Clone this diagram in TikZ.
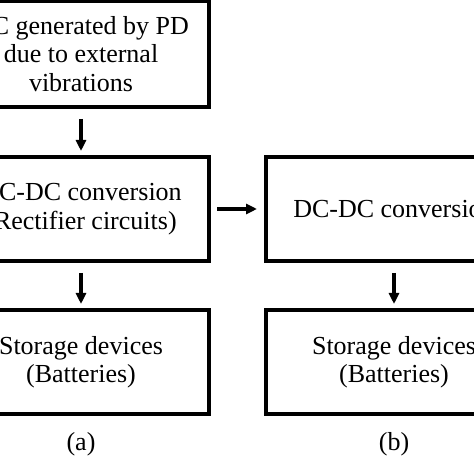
\documentclass[tikz,border=0pt]{standalone}
\usepackage{fontspec}
\setmainfont{Liberation Serif}
\usetikzlibrary{arrows.meta, positioning}

\begin{document}
\begin{tikzpicture}[
        x=1pt, y=1pt,
        box/.style={draw, line width=4pt, outer sep=0pt, minimum width=256pt, minimum height=104pt, align=center, font=\fontsize{26}{28.5}\selectfont},
        tag/.style={inner sep=0pt, font=\fontsize{26}{28.5}\selectfont},
        flow/.style={-{Triangle[length=11pt, width=10pt]}, line width=3.5pt, shorten <=12pt, shorten >=6pt},
        node distance=50pt
    ]
        \useasboundingbox (0,0) rectangle (474,474);
        \node[box, minimum height=106pt] (acgen) at (81,420) {AC generated by PD\\ due to external\\ vibrations};
        \node[box, below=of acgen] (acdc) {AC-DC conversion\\ (Rectifier circuits)};
        \node[box, below=49pt of acdc] (storeA) {Storage devices\\ (Batteries)};
        \node[box, right=57pt of acdc] (dcdc) {DC-DC conversion};
        \node[box, below=49pt of dcdc] (storeB) {Storage devices\\ (Batteries)};
        \node[tag, below=18pt of storeA] (lblA) {(a)};
        \node[tag, below=18pt of storeB] (lblB) {(b)};

        \draw[flow] (acgen) -- (acdc);
        \draw[flow] (acdc) -- (storeA);
        \draw[flow, shorten <=8pt, shorten >=9pt] (acdc) -- (dcdc);
        \draw[flow] (dcdc) -- (storeB);
    \end{tikzpicture}
\end{document}
